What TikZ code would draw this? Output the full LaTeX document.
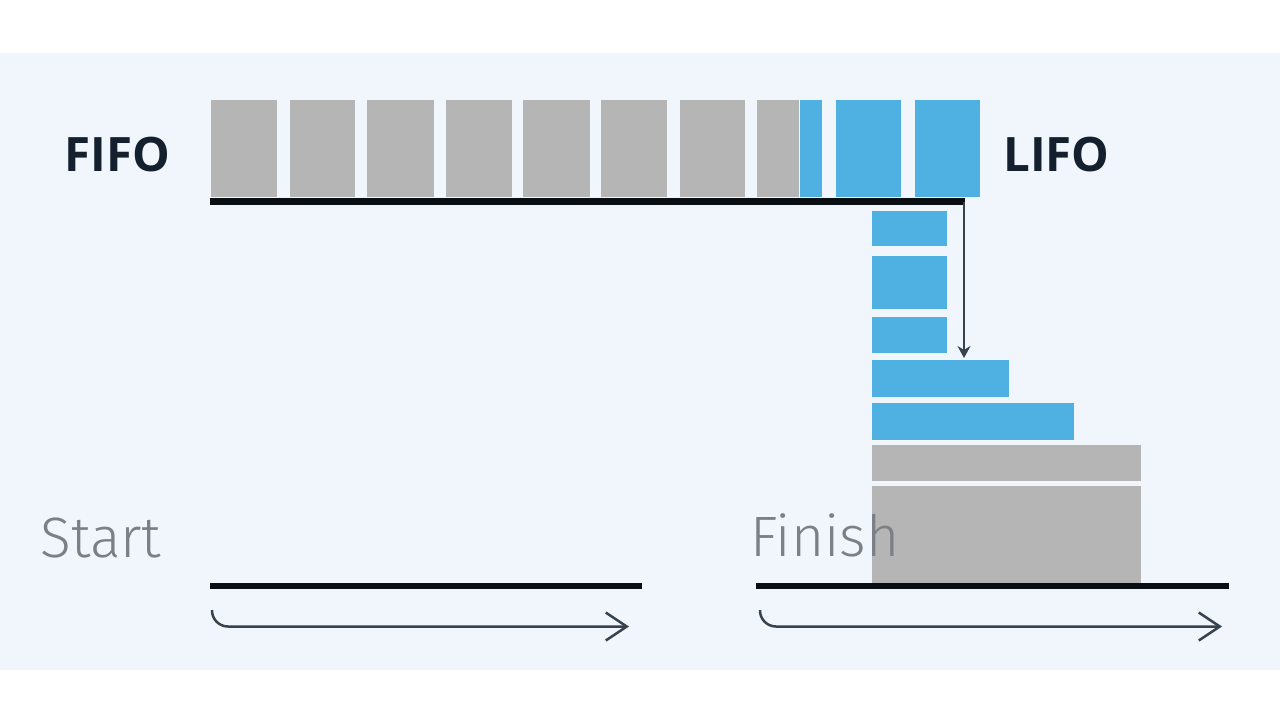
\documentclass[tikz,border=0pt]{standalone}
\usepackage{xcolor}
\usepackage{fontspec}
\setmainfont{Open Sans}
\newfontfamily\lightfont{Fira Sans Light}
\usetikzlibrary{arrows.meta}
\definecolor{bgpanel}{HTML}{F1F6FD}
\definecolor{bargray}{HTML}{B5B5B5}
\definecolor{barblue}{HTML}{4FB0E2}
\definecolor{inkdark}{HTML}{14202E}
\definecolor{inkgray}{HTML}{7C8086}
\definecolor{railblack}{HTML}{0A0F14}
\tikzset{
  rail/.style={line width=0.13cm, railblack},
  flow/.style={line width=0.05cm, inkdark!85, rounded corners=0.32cm, -{Straight Barb[length=0.42cm,width=0.56cm,line width=0.05cm]}},
  drop/.style={line width=0.03cm, inkdark!85, -{Stealth[length=0.24cm,width=0.26cm]}},
  headlabel/.style={font=\fontsize{27}{27}\selectfont\bfseries, text=inkdark, inner sep=0pt},
  steplabel/.style={font=\lightfont\fontsize{32.4}{32.4}\selectfont, text=inkgray, inner sep=0pt}
}
\begin{document}
\begin{tikzpicture}[x=0.02cm,y=-0.02cm]
\useasboundingbox (0,0) rectangle (1280,720);
\fill[white] (0,0) rectangle (1280,720);
\fill[bgpanel] (0,53) rectangle (1280,670);

% top row
\foreach \xa/\xb in {211/277,290/355,367/434,446/512,523/590,601/667,680/745,757/799}
  \fill[bargray] (\xa,100) rectangle (\xb,197);
\foreach \xa/\xb in {800/822,836/901,915/980}
  \fill[barblue] (\xa,100) rectangle (\xb,197);

% stack
\foreach \ya/\yb/\xb in {211/246/947,256/309/947,317/353/947,360/397/1009,403/440/1074}
  \fill[barblue] (871.5,\ya) rectangle (\xb,\yb);
\foreach \ya/\yb in {445/481,486/583}
  \fill[bargray] (871.5,\ya) rectangle (1141,\yb);

% rails
\coordinate (fifoL) at (210,201.5);
\coordinate (fifoR) at (965,201.5);
\coordinate (dropEnd) at (964,358);
\coordinate (startL) at (210,586);
\coordinate (startR) at (642,586);
\coordinate (finishL) at (756,586);
\coordinate (finishR) at (1229,586);
\draw[rail] (fifoL) -- (fifoR);
\draw[rail] (startL) -- (startR);
\draw[rail] (finishL) -- (finishR);
\draw[drop] (fifoR -| dropEnd) -- (dropEnd);

% arrows
\coordinate (startA) at (212,610);
\coordinate (startB) at (629,626.5);
\coordinate (finishA) at (760,610);
\coordinate (finishB) at (1222,626.5);
\draw[flow] (startA) |- (startB);
\draw[flow] (finishA) |- (finishB);

% labels
\node[headlabel, anchor=base west] (fifo) at (64,171) {FIFO};
\node[headlabel, anchor=base west] (lifo) at (1003,171) {LIFO};
\node[steplabel, anchor=base west] (start) at (40,557) {Start};
\node[steplabel, anchor=base west] (finish) at (750,556) {Finish};
\end{tikzpicture}
\end{document}
